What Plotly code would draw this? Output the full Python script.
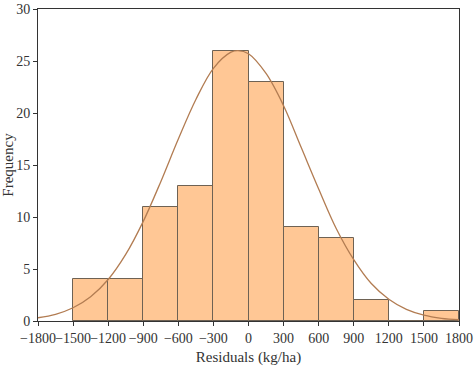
import plotly.graph_objects as go

bin_left = [-1500, -1200, -900, -600, -300, 0, 300, 600, 900, 1200, 1500]
counts = [4, 4, 11, 13, 26, 23, 9, 8, 2, 0, 1]
bin_width = 300

curve_x = [-1800, -1650, -1500, -1350, -1200, -1050, -900, -750, -600, -450, -300, -150, -90,
           0, 150, 300, 450, 600, 750, 900, 1050, 1200, 1350, 1500, 1650, 1800]
curve_y = [0.31, 0.64, 1.27, 2.33, 3.99, 6.4, 9.58, 13.4, 17.5, 21.3, 24.3, 25.85, 26.0,
           25.7, 23.8, 20.7, 16.7, 12.7, 8.9, 5.9, 3.6, 2.09, 1.12, 0.56, 0.26, 0.12]

x_ticks = [-1800, -1500, -1200, -900, -600, -300, 0, 300, 600, 900, 1200, 1500, 1800]
x_tick_text = ["\u22121800", "\u22121500", "\u22121200", "\u2212900", "\u2212600", "\u2212300",
               "0", "300", "600", "900", "1200", "1500", "1800"]
y_ticks = [0, 5, 10, 15, 20, 25, 30]

centers = [b + bin_width / 2 for b in bin_left]

fig = go.Figure()
fig.add_trace(go.Bar(
    x=centers, y=counts, width=[bin_width] * len(counts),
    marker=dict(color="#FFC795", line=dict(color="#6E6254", width=1)),
    showlegend=False,
))
fig.add_trace(go.Scatter(
    x=curve_x, y=curve_y, mode="lines", line=dict(color="#B27C52", width=1.3, shape="spline"),
    showlegend=False,
))

font = dict(family="Liberation Serif, Times New Roman, serif", size=14, color="#333")
fig.update_layout(
    width=474, height=366,
    margin=dict(l=38, r=15, t=9, b=45),
    paper_bgcolor="white", plot_bgcolor="white",
    font=font, bargap=0,
)
fig.update_xaxes(
    range=[-1800, 1800], tickvals=x_ticks, ticktext=x_tick_text, tickangle=0,
    tickfont=dict(size=14), automargin=False,
    showgrid=False, zeroline=False, showline=True, linecolor="#333", linewidth=1, mirror=True,
    ticks="outside", ticklen=4, tickcolor="#333",
    title=dict(text="Residuals (kg/ha)", font=dict(size=15), standoff=6),
)
fig.update_yaxes(
    range=[0, 30], tickvals=y_ticks, tickfont=dict(size=14), automargin=False,
    showgrid=False, zeroline=False, showline=True, linecolor="#333", linewidth=1, mirror=True,
    ticks="outside", ticklen=4, tickcolor="#333",
    title=dict(text="Frequency", font=dict(size=15), standoff=3),
)
fig.write_html("out.html", config={"displayModeBar": False},
               post_script="document.body.style.margin='0';document.body.style.overflow='hidden';")
